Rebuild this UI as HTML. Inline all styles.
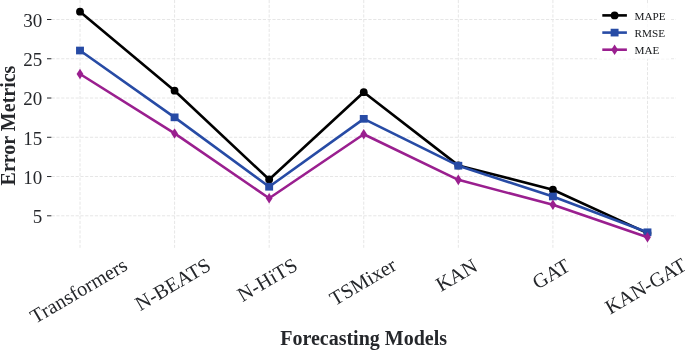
<!DOCTYPE html>
<html><head><meta charset="utf-8"><title>Chart</title><style>html,body{margin:0;padding:0;background:#fff}body{width:685px;height:350px;overflow:hidden}</style></head><body>
<svg width="685" height="350" viewBox="0 0 685 350" style="display:block;font-family:'Liberation Serif',serif">
<rect width="685" height="350" fill="#fff"/>
<g stroke="#e6e6e6" stroke-width="1" stroke-dasharray="3.2 1.6" fill="none">
<line x1="51.6" x2="676" y1="215.80" y2="215.80"/>
<line x1="51.6" x2="676" y1="176.54" y2="176.54"/>
<line x1="51.6" x2="676" y1="137.28" y2="137.28"/>
<line x1="51.6" x2="676" y1="98.02" y2="98.02"/>
<line x1="51.6" x2="676" y1="58.76" y2="58.76"/>
<line x1="51.6" x2="676" y1="19.50" y2="19.50"/>
<line x1="80.00" x2="80.00" y1="0" y2="247.8"/>
<line x1="174.58" x2="174.58" y1="0" y2="247.8"/>
<line x1="269.16" x2="269.16" y1="0" y2="247.8"/>
<line x1="363.74" x2="363.74" y1="0" y2="247.8"/>
<line x1="458.32" x2="458.32" y1="0" y2="247.8"/>
<line x1="552.90" x2="552.90" y1="0" y2="247.8"/>
<line x1="647.48" x2="647.48" y1="0" y2="247.8"/>
</g>
<g stroke="#25272b" stroke-width="1">
<line x1="47" x2="51.4" y1="215.80" y2="215.80"/>
<line x1="47" x2="51.4" y1="176.54" y2="176.54"/>
<line x1="47" x2="51.4" y1="137.28" y2="137.28"/>
<line x1="47" x2="51.4" y1="98.02" y2="98.02"/>
<line x1="47" x2="51.4" y1="58.76" y2="58.76"/>
<line x1="47" x2="51.4" y1="19.50" y2="19.50"/>
</g>
<g fill="#25272b" font-size="19" text-anchor="end">
<text x="42.3" y="223.20">5</text>
<text x="42.3" y="183.94">10</text>
<text x="42.3" y="144.68">15</text>
<text x="42.3" y="105.42">20</text>
<text x="42.3" y="66.16">25</text>
<text x="42.3" y="26.90">30</text>
</g>
<g fill="#25272b" font-size="20.3" text-anchor="middle">
<text transform="translate(78.70,290.74) rotate(-30.5)" x="0" y="6.70">Transformers</text>
<text transform="translate(172.78,284.35) rotate(-30.5)" x="0" y="6.70">N-BEATS</text>
<text transform="translate(267.36,279.77) rotate(-30.5)" x="0" y="6.70">N-HiTS</text>
<text transform="translate(362.94,281.78) rotate(-30.5)" x="0" y="6.70">TSMixer</text>
<text transform="translate(456.52,275.14) rotate(-30.5)" x="0" y="6.70">KAN</text>
<text transform="translate(551.10,273.99) rotate(-30.5)" x="0" y="6.70">GAT</text>
<text transform="translate(645.68,286.07) rotate(-30.5)" x="0" y="6.70">KAN-GAT</text>
</g>
<text x="363.6" y="345" font-size="20" font-weight="bold" fill="#25272b" text-anchor="middle">Forecasting Models</text>
<text transform="translate(14.8,125.5) rotate(-90)" font-size="20" font-weight="bold" fill="#25272b" text-anchor="middle">Error Metrics</text>
<polyline points="80.00,11.65 174.58,90.72 269.16,179.52 363.74,92.21 458.32,165.39 552.90,189.73 647.48,233.07" fill="none" stroke="#000000" stroke-width="2.6" stroke-linejoin="round" stroke-linecap="butt"/>
<circle cx="80.00" cy="11.65" r="3.9" fill="#000000"/>
<circle cx="174.58" cy="90.72" r="3.9" fill="#000000"/>
<circle cx="269.16" cy="179.52" r="3.9" fill="#000000"/>
<circle cx="363.74" cy="92.21" r="3.9" fill="#000000"/>
<circle cx="458.32" cy="165.39" r="3.9" fill="#000000"/>
<circle cx="552.90" cy="189.73" r="3.9" fill="#000000"/>
<circle cx="647.48" cy="233.07" r="3.9" fill="#000000"/>
<polyline points="80.00,50.52 174.58,117.34 269.16,186.75 363.74,118.83 458.32,165.70 552.90,196.48 647.48,232.29" fill="none" stroke="#274ba5" stroke-width="2.6" stroke-linejoin="round" stroke-linecap="butt"/>
<rect x="76.05" y="46.67" width="7.9" height="7.7" fill="#274ba5"/>
<rect x="170.63" y="113.49" width="7.9" height="7.7" fill="#274ba5"/>
<rect x="265.21" y="182.90" width="7.9" height="7.7" fill="#274ba5"/>
<rect x="359.79" y="114.98" width="7.9" height="7.7" fill="#274ba5"/>
<rect x="454.37" y="161.85" width="7.9" height="7.7" fill="#274ba5"/>
<rect x="548.95" y="192.63" width="7.9" height="7.7" fill="#274ba5"/>
<rect x="643.53" y="228.44" width="7.9" height="7.7" fill="#274ba5"/>
<polyline points="80.00,73.99 174.58,133.43 269.16,198.29 363.74,134.22 458.32,179.84 552.90,204.81 647.48,237.31" fill="none" stroke="#9a1f8f" stroke-width="2.6" stroke-linejoin="round" stroke-linecap="butt"/>
<path d="M80.00,68.69 L83.40,73.99 L80.00,79.29 L76.60,73.99 Z" fill="#9a1f8f"/>
<path d="M174.58,128.13 L177.98,133.43 L174.58,138.73 L171.18,133.43 Z" fill="#9a1f8f"/>
<path d="M269.16,192.99 L272.56,198.29 L269.16,203.59 L265.76,198.29 Z" fill="#9a1f8f"/>
<path d="M363.74,128.92 L367.14,134.22 L363.74,139.52 L360.34,134.22 Z" fill="#9a1f8f"/>
<path d="M458.32,174.54 L461.72,179.84 L458.32,185.14 L454.92,179.84 Z" fill="#9a1f8f"/>
<path d="M552.90,199.51 L556.30,204.81 L552.90,210.11 L549.50,204.81 Z" fill="#9a1f8f"/>
<path d="M647.48,232.01 L650.88,237.31 L647.48,242.61 L644.08,237.31 Z" fill="#9a1f8f"/>
<rect x="597" y="4" width="74" height="55" fill="#fff" fill-opacity="0.8"/>
<line x1="602.3" x2="626.9" y1="15.4" y2="15.4" stroke="#000000" stroke-width="2.6"/>
<circle cx="614.60" cy="15.40" r="3.9" fill="#000000"/>
<text x="634.5" y="19.70" font-size="11.2" fill="#15171a">MAPE</text>
<line x1="602.3" x2="626.9" y1="32.6" y2="32.6" stroke="#274ba5" stroke-width="2.6"/>
<rect x="610.65" y="28.75" width="7.9" height="7.7" fill="#274ba5"/>
<text x="634.5" y="36.90" font-size="11.2" fill="#15171a">RMSE</text>
<line x1="602.3" x2="626.9" y1="49.7" y2="49.7" stroke="#9a1f8f" stroke-width="2.6"/>
<path d="M614.60,44.40 L618.00,49.70 L614.60,55.00 L611.20,49.70 Z" fill="#9a1f8f"/>
<text x="634.5" y="54.00" font-size="11.2" fill="#15171a">MAE</text>
</svg>
</body></html>
